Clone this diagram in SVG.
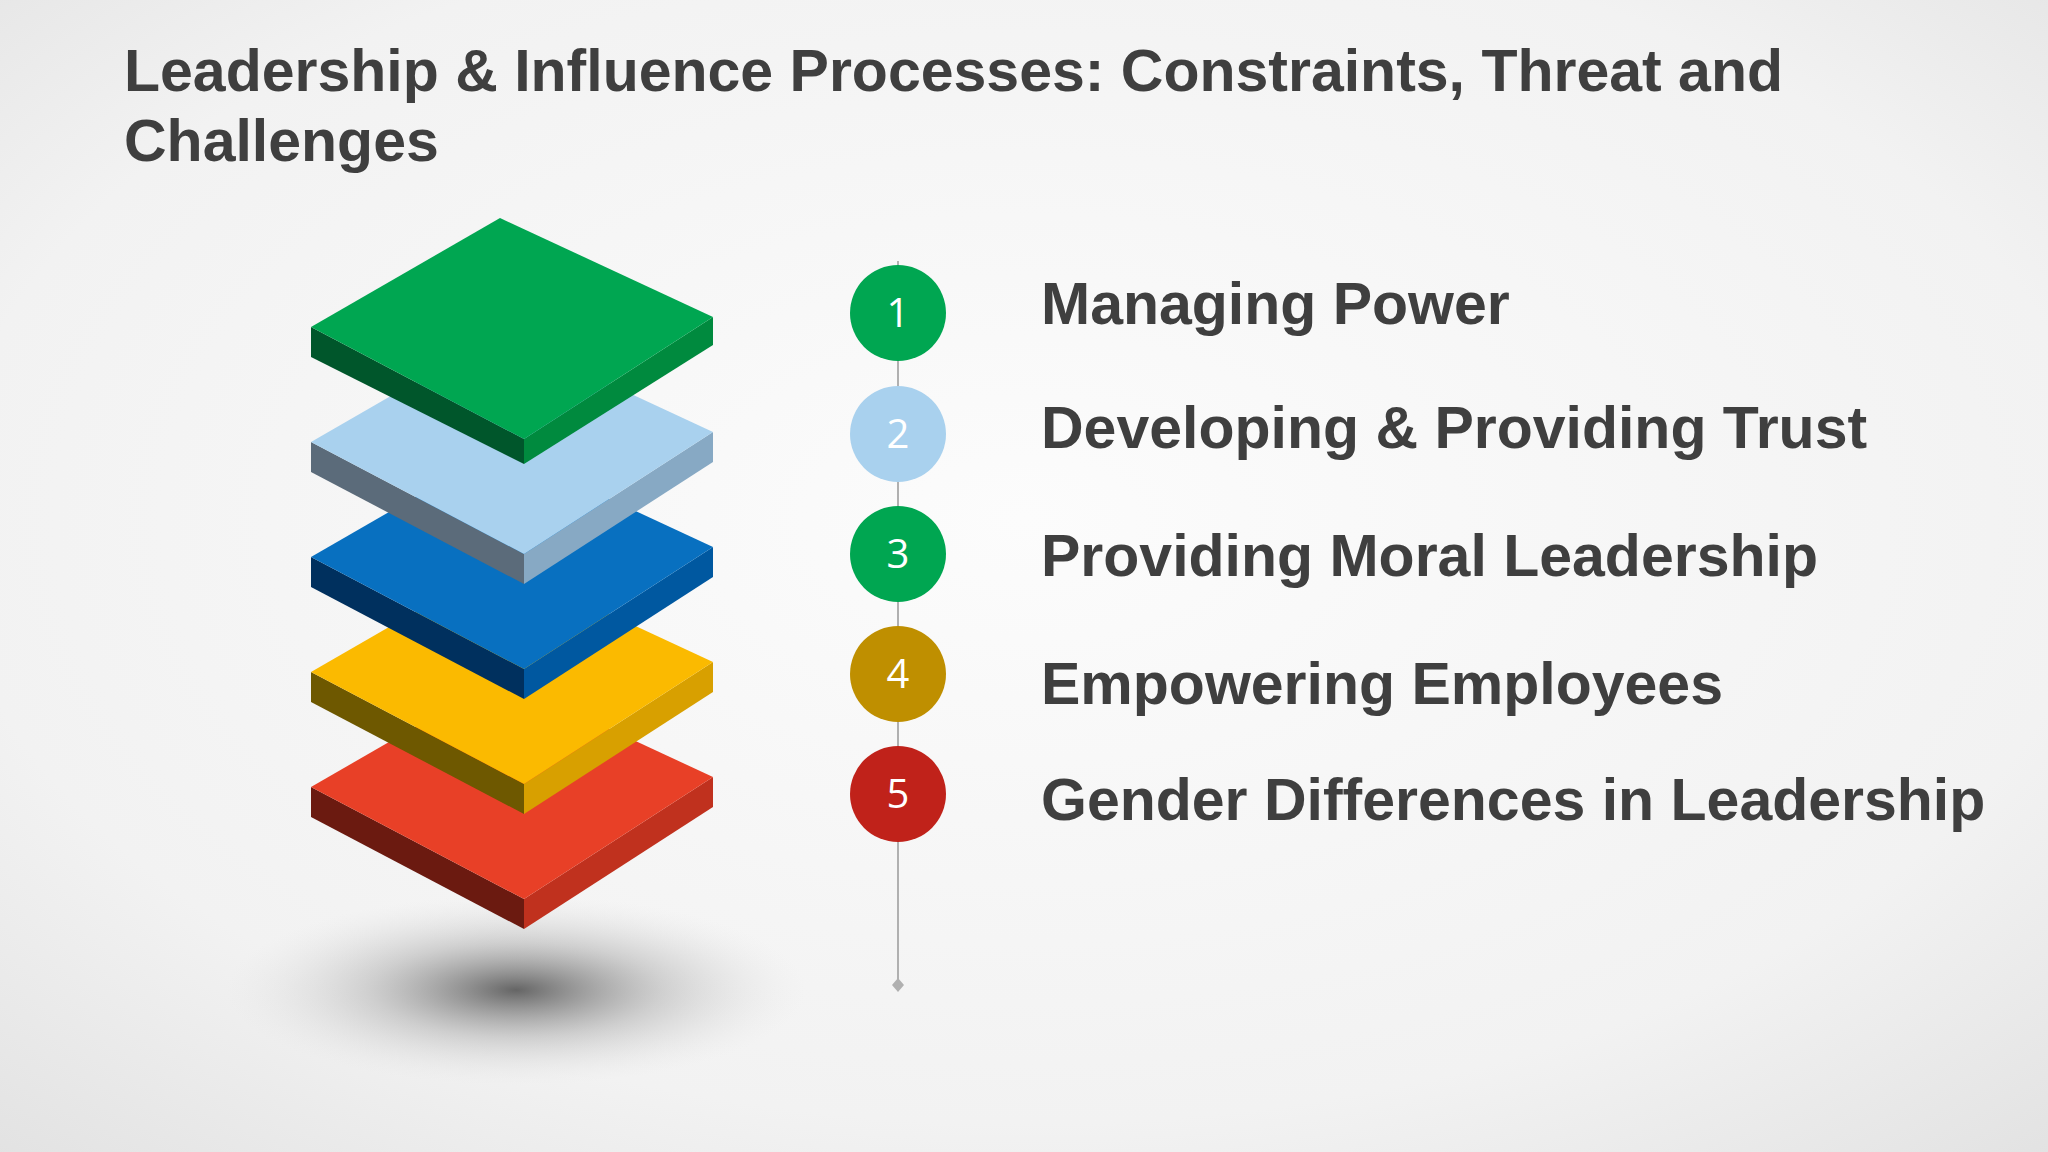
<svg xmlns="http://www.w3.org/2000/svg" width="2048" height="1152" viewBox="0 0 2048 1152">
<defs>
<radialGradient id="bg" cx="50%" cy="45%" r="75%"><stop offset="0" stop-color="#fcfcfc"/><stop offset="0.7" stop-color="#f2f2f2"/><stop offset="1" stop-color="#e2e2e2"/></radialGradient>
<radialGradient id="sh" cx="50%" cy="50%" r="50%"><stop offset="0" stop-color="#555" stop-opacity="0.9"/><stop offset="0.5" stop-color="#999" stop-opacity="0.4"/><stop offset="1" stop-color="#ddd" stop-opacity="0"/></radialGradient>
<style>
.t{font-family:"Liberation Sans",Arial,sans-serif;font-weight:bold;fill:#3f3f3f}
.n{font-family:"Open Sans","Liberation Sans",sans-serif;font-size:40px;fill:#fff;text-anchor:middle}
</style>
</defs>
<rect width="2048" height="1152" fill="url(#bg)"/>
<text class="t" x="124" y="91" font-size="59">Leadership &amp; Influence Processes: Constraints, Threat and</text>
<text class="t" x="124" y="161" font-size="59">Challenges</text>
<ellipse cx="516" cy="990" rx="290" ry="95" fill="url(#sh)"/>
<g id="layers">
<g id="l5" transform="translate(0,460)"><polygon points="311,327 524,439 524,469 311,357" fill="#6b1a10"/><polygon points="524,439 713,317 713,347 524,469" fill="#c0311e"/><polygon points="500,218 713,317 524,439 311,327" fill="#e84027"/></g>
<g id="l4" transform="translate(0,345)"><polygon points="311,327 524,439 524,469 311,357" fill="#6e5800"/><polygon points="524,439 713,317 713,347 524,469" fill="#d8a000"/><polygon points="500,218 713,317 524,439 311,327" fill="#fbba00"/></g>
<g id="l3" transform="translate(0,230)"><polygon points="311,327 524,439 524,469 311,357" fill="#00305e"/><polygon points="524,439 713,317 713,347 524,469" fill="#0058a0"/><polygon points="500,218 713,317 524,439 311,327" fill="#0870c0"/></g>
<g id="l2" transform="translate(0,115)"><polygon points="311,327 524,439 524,469 311,357" fill="#5b6b7a"/><polygon points="524,439 713,317 713,347 524,469" fill="#87a9c4"/><polygon points="500,218 713,317 524,439 311,327" fill="#a9d1ee"/></g>
<g id="l1"><polygon points="311,327 524,439 524,464 311,357" fill="#00562b"/><polygon points="524,439 713,317 713,345 524,464" fill="#008a3e"/><polygon points="500,218 713,317 524,439 311,327" fill="#00a651"/></g>
</g>
<g id="connectors">
<line x1="898" y1="261" x2="898" y2="984" stroke="#b0b0b0" stroke-width="2"/>
<polygon points="898,978 904,985 898,992 892,985" fill="#b0b0b0"/>
</g>
<g id="n1"><circle cx="898" cy="313" r="48" fill="#00a651"/><text class="n" x="898" y="327">1</text><text class="t" x="1041" y="324" font-size="59">Managing Power</text></g>
<g id="n2"><circle cx="898" cy="434" r="48" fill="#a9d1ee"/><text class="n" x="898" y="448">2</text><text class="t" x="1041" y="448" font-size="59">Developing &amp; Providing Trust</text></g>
<g id="n3"><circle cx="898" cy="554" r="48" fill="#00a651"/><text class="n" x="898" y="568">3</text><text class="t" x="1041" y="576" font-size="59">Providing Moral Leadership</text></g>
<g id="n4"><circle cx="898" cy="674" r="48" fill="#bf8f00"/><text class="n" x="898" y="688">4</text><text class="t" x="1041" y="704" font-size="59">Empowering Employees</text></g>
<g id="n5"><circle cx="898" cy="794" r="48" fill="#c0221a"/><text class="n" x="898" y="808">5</text><text class="t" x="1041" y="820" font-size="59">Gender Differences in Leadership</text></g>
</svg>
